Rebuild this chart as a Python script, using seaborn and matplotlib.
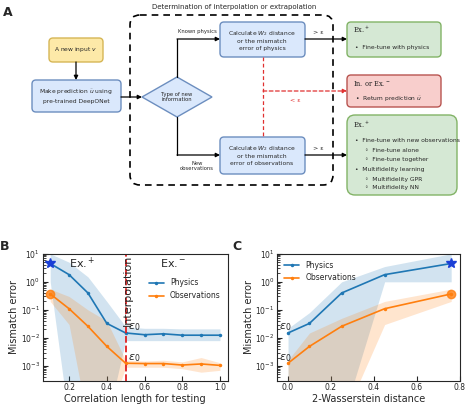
import numpy as np
import pandas as pd
import seaborn as sns
import matplotlib.pyplot as plt
from matplotlib.patches import FancyBboxPatch, Polygon

# panel B data
corr_len = [0.1, 0.2, 0.3, 0.4, 0.5, 0.6, 0.7, 0.8, 0.9, 1.0]
phys_b = [4.5, 1.8, 0.4, 0.033, 0.015, 0.013, 0.014, 0.0125, 0.0125, 0.0125]
phys_b_hi = [10, 5, 1.5, 0.2, 0.025, 0.022, 0.022, 0.021, 0.021, 0.021]
phys_b_lo = [1.0, 1e-5, 1e-5, 1e-5, 0.008, 0.008, 0.008, 0.008, 0.008, 0.008]
obs_b = [0.37, 0.11, 0.026, 0.005, 0.00125, 0.00122, 0.00122, 0.00108, 0.00118, 0.00105]
obs_b_hi = [0.55, 0.3, 0.1, 0.04, 0.0016, 0.0015, 0.0016, 0.0014, 0.002, 0.0013]
obs_b_lo = [0.2, 0.03, 1e-5, 1e-5, 0.0009, 0.0009, 0.0009, 0.0008, 0.0006, 0.0007]

# panel C data
w2 = [0.0, 0.1, 0.25, 0.45, 0.76]
phys_c = [0.015, 0.033, 0.4, 1.8, 4.5]
phys_c_hi = [0.022, 0.08, 1.0, 3.5, 10]
phys_c_lo = [1e-5, 1e-5, 1e-5, 1.0, 1.0]
obs_c = [0.00125, 0.005, 0.026, 0.11, 0.37]
obs_c_hi = [0.0016, 0.015, 0.05, 0.2, 0.55]
obs_c_lo = [1e-5, 1e-5, 1e-5, 0.03, 0.2]

sns.set_style("ticks")
plt.rcParams['font.family'] = ['DejaVu Sans']
blue, orange = '#1f77b4', '#ff7f0e'

fig = plt.figure(figsize=(4.74, 4.16), dpi=100)

# ---------- flowchart (panel A) ----------
fa = fig.add_axes([0, 0, 1, 1])
fa.set_xlim(0, 474)
fa.set_ylim(416, 0)
fa.axis('off')

def box(x0, y0, x1, y1, fc, ec, ls='-', lw=1.0, r=4):
    fa.add_patch(FancyBboxPatch((x0, y0), x1 - x0, y1 - y0,
                                boxstyle=f"round,pad=0,rounding_size={r}",
                                fc=fc, ec=ec, lw=lw, ls=ls))

def arrow(x0, y0, x1, y1, c='k', ls='-'):
    fa.annotate('', xy=(x1, y1), xytext=(x0, y0),
                arrowprops=dict(arrowstyle='-|>', color=c, lw=0.9, ls=ls,
                                mutation_scale=6, shrinkA=0, shrinkB=0))

fs = 4.3
fa.text(3, 12, 'A', fontsize=9, fontweight='bold', va='center')
fa.text(234, 7, 'Determination of interpolation or extrapolation', fontsize=5, ha='center', va='center')
box(130, 15, 333, 185, 'none', 'k', ls=(0, (4, 3)), lw=1.2, r=10)
box(49, 38, 103, 62, '#fde9a8', '#d6b656')
fa.text(76, 50, 'A new input $v$', fontsize=fs, ha='center', va='center')
box(32, 80, 121, 112, '#dae8fc', '#6c8ebf')
fa.text(76, 96, 'Make prediction $\\tilde{u}$ using\npre-trained DeepONet', fontsize=fs,
        ha='center', va='center', linespacing=1.6)
fa.add_patch(Polygon([(142, 97), (177, 77), (212, 97), (177, 117)], closed=True,
                     fc='#dae8fc', ec='#6c8ebf', lw=1.0))
fa.text(177, 97, 'Type of new\ninformation', fontsize=3.8, ha='center', va='center')
box(220, 22, 305, 57, '#dae8fc', '#6c8ebf')
fa.text(262, 40, 'Calculate $W_2$ distance\nor the mismatch\nerror of physics', fontsize=fs,
        ha='center', va='center', linespacing=1.4)
box(220, 137, 305, 174, '#dae8fc', '#6c8ebf')
fa.text(262, 155, 'Calculate $W_2$ distance\nor the mismatch\nerror of observations', fontsize=fs,
        ha='center', va='center', linespacing=1.4)
box(347, 22, 441, 57, '#d5e8d4', '#82b366')
fa.text(353, 30, 'Ex.$^+$', fontsize=4.8, family='serif', va='center')
fa.text(355, 47, '•  Fine-tune with physics', fontsize=fs, va='center')
box(347, 75, 441, 107, '#f8cecc', '#b85450')
fa.text(353, 84, 'In. or Ex.$^-$', fontsize=4.8, family='serif', va='center')
fa.text(355, 99, '•  Return prediction $\\tilde{u}$', fontsize=fs, va='center')
box(347, 115, 457, 195, '#d5e8d4', '#82b366', r=8)
fa.text(353, 125, 'Ex.$^+$', fontsize=4.8, family='serif', va='center')
items = [(355, 141, '•  Fine-tune with new observations'), (365, 151, '◦  Fine-tune alone'),
         (365, 160, '◦  Fine-tune together'), (355, 170, '•  Multifidelity learning'),
         (365, 179, '◦  Multifidelity GPR'), (365, 188, '◦  Multifidelity NN')]
for x, y, t in items:
    fa.text(x, y, t, fontsize=fs, va='center')

arrow(76, 62, 76, 80)
arrow(121, 97, 142, 97)
fa.plot([177, 177], [77, 39], 'k', lw=0.9)
arrow(177, 39, 220, 39)
fa.plot([177, 177], [117, 155], 'k', lw=0.9)
arrow(177, 155, 220, 155)
fa.text(197, 31, 'Known physics', fontsize=3.8, ha='center', va='center')
fa.text(197, 166, 'New\nobservations', fontsize=3.8, ha='center', va='center')
arrow(305, 39, 347, 39)
arrow(305, 155, 347, 155)
fa.text(318, 32, '> ε', fontsize=4.5, ha='center', va='center')
fa.text(318, 148, '> ε', fontsize=4.5, ha='center', va='center')
fa.plot([263, 263], [57, 137], color='#e03030', ls=(0, (3, 2)), lw=0.9)
arrow(263, 91, 347, 91, c='#e03030', ls=(0, (3, 2)))
fa.text(295, 100, '< ε', fontsize=4.5, ha='center', va='center', color='#e03030')

# ---------- panel B ----------
axb = fig.add_axes([0.09, 0.085, 0.39, 0.305])
axb.fill_between(corr_len, phys_b_lo, phys_b_hi, color=blue, alpha=0.2, lw=0)
axb.fill_between(corr_len, obs_b_lo, obs_b_hi, color=orange, alpha=0.2, lw=0)
df_b = pd.DataFrame({'x': corr_len * 2, 'y': phys_b + obs_b,
                     'kind': ['Physics'] * 10 + ['Observations'] * 10})
sns.lineplot(data=df_b, x='x', y='y', hue='kind', palette=[blue, orange], marker='o',
             markersize=2.5, markeredgewidth=0, lw=1.2, ax=axb)
axb.plot(corr_len[0], phys_b[0], '*', color='#1a3fd6', ms=7)
axb.plot(corr_len[0], obs_b[0], 'o', color=orange, ms=6, alpha=0.8)
axb.axvline(0.5, color='#e02020', ls='--', lw=1.3)
axb.text(0.51, 9, 'Interpolation', rotation=90, fontsize=8, ha='center', va='top')
axb.text(0.27, 4.5, 'Ex.$^+$', fontsize=8, ha='center', va='center')
axb.text(0.75, 4.5, 'Ex.$^-$', fontsize=8, ha='center', va='center')
axb.text(0.51, 0.021, '$\\epsilon_0$', fontsize=8)
axb.text(0.51, 0.0016, '$\\epsilon_0$', fontsize=8)
axb.set_yscale('log')
axb.set_ylim(3e-4, 10)
axb.set_xlim(0.06, 1.04)
axb.set_xlabel('Correlation length for testing', fontsize=7, labelpad=1)
axb.set_ylabel('Mismatch error', fontsize=7, labelpad=1)
axb.tick_params(direction='in', labelsize=5.5, which='both', pad=2)
axb.legend(loc='upper right', bbox_to_anchor=(1.0, 0.86), fontsize=5.5, frameon=False,
           handlelength=2)
fig.text(0.0, 0.4, 'B', fontsize=9, fontweight='bold')

# ---------- panel C ----------
axc = fig.add_axes([0.585, 0.085, 0.385, 0.305])
axc.fill_between(w2, phys_c_lo, phys_c_hi, color=blue, alpha=0.2, lw=0)
axc.fill_between(w2, obs_c_lo, obs_c_hi, color=orange, alpha=0.2, lw=0)
df_c = pd.DataFrame({'x': w2 * 2, 'y': phys_c + obs_c,
                     'kind': ['Physics'] * 5 + ['Observations'] * 5})
sns.lineplot(data=df_c, x='x', y='y', hue='kind', palette=[blue, orange], marker='o',
             markersize=2.5, markeredgewidth=0, lw=1.2, ax=axc)
axc.plot(w2[-1], phys_c[-1], '*', color='#1a3fd6', ms=7)
axc.plot(w2[-1], obs_c[-1], 'o', color=orange, ms=6, alpha=0.8)
axc.text(-0.04, 0.02, '$\\epsilon_0$', fontsize=8)
axc.text(-0.04, 0.0016, '$\\epsilon_0$', fontsize=8)
axc.set_yscale('log')
axc.set_ylim(3e-4, 10)
axc.set_xlim(-0.05, 0.8)
axc.set_xlabel('2-Wasserstein distance', fontsize=7, labelpad=1)
axc.set_ylabel('Mismatch error', fontsize=7, labelpad=1)
axc.tick_params(direction='in', labelsize=5.5, which='both', pad=2)
axc.legend(loc='upper left', fontsize=5.5, frameon=False, handlelength=2)
fig.text(0.49, 0.4, 'C', fontsize=9, fontweight='bold')

fig.savefig('out.png', dpi=100)
